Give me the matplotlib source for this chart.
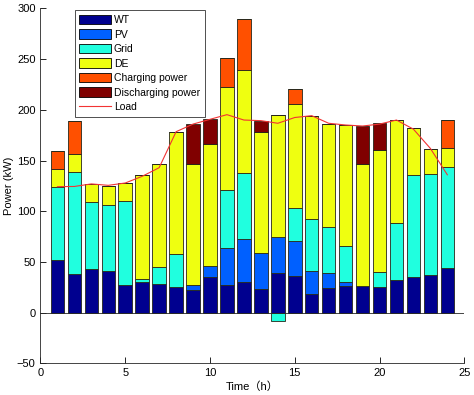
import numpy as np
import matplotlib
matplotlib.use("Agg")
import matplotlib.pyplot as plt
from matplotlib.patches import Patch
from matplotlib.lines import Line2D

plt.rcParams['font.family'] = ['Liberation Sans', 'Noto Sans CJK SC', 'DejaVu Sans']

hours = list(range(1, 25))
wt   = [51.7, 38.2, 43.4, 40.8, 27.3, 30.5, 28.6, 25.0, 22.1, 35.2, 27.6, 30.3,
        23.7, 39.4, 36.2, 18.1, 24.0, 26.3, 26.3, 25.3, 32.5, 35.5, 37.5, 44.1]
pv   = [0, 0, 0, 0, 0, 0, 0, 0, 4.9, 10.8, 36.2, 42.7,
        34.9, 35.0, 34.5, 23.3, 14.8, 4.3, 0, 0, 0, 0, 0, 0]
grid = [72.0, 100.6, 65.5, 65.4, 82.6, 3.0, 16.2, 32.9, 0, 0, 56.9, 64.8,
        0, -8.0, 32.9, 50.7, 46.0, 34.9, 0, 14.5, 55.7, 100.0, 99.3, 99.9]
de   = [18.3, 17.4, 18.0, 19.0, 17.7, 102.0, 101.5, 120.3, 119.6, 120.4, 102.2, 101.8,
        119.6, 120.6, 101.9, 102.2, 101.3, 119.6, 120.0, 120.7, 102.1, 46.4, 24.6, 18.7]
charging = [17.2, 32.8, 0, 0, 0, 0, 0, 0, 0, 0, 28.6, 50.0,
            0, 0, 14.8, 0, 0, 0, 0, 0, 0, 0, 0, 27.6]
discharging = [0, 0, 0, 0, 0, 0, 0, 0, 39.5, 24.3, 0, 0,
               11.1, 0, 0, 0, 0, 0, 37.5, 26.3, 0, 0, 0, 0]
load = [124.3, 124.5, 127.0, 125.6, 127.9, 134.5, 143.0, 178.5, 186.0, 190.7, 195.3, 190.0,
        189.4, 186.8, 192.5, 194.3, 186.8, 185.1, 184.1, 186.0, 190.0, 181.0, 162.0, 136.0]

labels = ['WT', 'PV', 'Grid', 'DE', 'Charging power', 'Discharging power']
colors = [(0, 0, 0.5625), (0, 0.375, 1), (0.125, 1, 0.875),
          (0.9375, 1, 0.0625), (1, 0.3125, 0), (0.5, 0, 0)]
series = [wt, pv, grid, de, charging, discharging]

fig = plt.figure(figsize=(4.74, 3.95), dpi=100)
ax = fig.add_axes([0.0854, 0.080, 0.8941, 0.8985])

x = np.array(hours, dtype=float)
pos = np.zeros(len(hours))
neg = np.zeros(len(hours))
for vals, col in zip(series, colors):
    v = np.array(vals, dtype=float)
    bottom = np.where(v >= 0, pos, neg)
    ax.bar(x, v, width=0.8, bottom=bottom, color=col, edgecolor=(0.15, 0.15, 0.1),
           linewidth=0.6, zorder=2)
    pos = pos + np.where(v >= 0, v, 0)
    neg = neg + np.where(v < 0, v, 0)

ax.plot(x, load, color=(0.95, 0.2, 0.2), linewidth=0.8, zorder=3)

ax.set_xlim(0, 25)
ax.set_ylim(-50, 300)
ax.set_xticks([0, 5, 10, 15, 20, 25])
ax.set_yticks(np.arange(-50, 301, 50))
ax.tick_params(direction='in', length=4, labelsize=8, width=0.6, top=False, right=False)
for s in ['top', 'right']:
    ax.spines[s].set_visible(False)
for s in ['left', 'bottom']:
    ax.spines[s].set_linewidth(0.6)
    ax.spines[s].set_color((0.15, 0.15, 0.15))
ax.axhline(0, color=(0.15, 0.15, 0.15), linewidth=0.6, zorder=4)

ax.set_ylabel('Power (kW)', fontsize=8, labelpad=2)
ax.set_xlabel('Time（h）', fontsize=8, labelpad=2)

handles = [Patch(facecolor=c, edgecolor='black', linewidth=0.6) for c in colors]
handles.append(Line2D([0], [0], color=(0.95, 0.2, 0.2), linewidth=0.8))
leg = ax.legend(handles, labels + ['Load'], loc='upper left',
                bbox_to_anchor=(0.081, 0.996), borderaxespad=0, fontsize=7.5,
                fancybox=False, framealpha=1, edgecolor=(0.2, 0.2, 0.2),
                handlelength=3.0, handleheight=1.05, labelspacing=0.4,
                handletextpad=0.3, borderpad=0.45)
leg.get_frame().set_linewidth(0.6)

fig.savefig('out.png', dpi=100)
